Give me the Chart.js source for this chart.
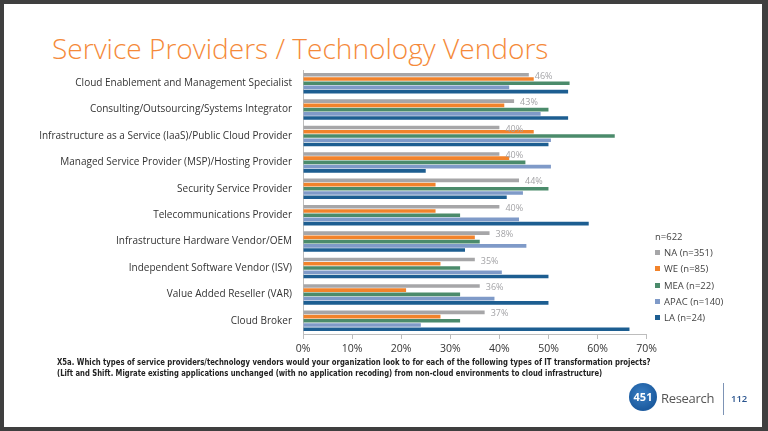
<!DOCTYPE html>
<html>
<head>
<meta charset="utf-8">
<script src="https://cdn.jsdelivr.net/npm/chart.js@4.4.1/dist/chart.umd.min.js"></script>
<style>
  html, body { margin: 0; padding: 0; }
  body { width: 768px; height: 431px; background: #3f3f3f; position: relative; overflow: hidden; font-family: "Open Sans", sans-serif; }
  #slide { position: absolute; left: 4px; top: 4px; width: 758px; height: 423px; background: #fff; }
  #title { position: absolute; left: 52px; top: 29px; color: #f58a3a; font-size: 29px; font-weight: 300; white-space: nowrap; }
  #wrap { position: absolute; left: 0; top: 60px; width: 661px; height: 300px; }
  #legend { position: absolute; left: 655px; top: 230px; font-size: 9.5px; color: #444; }
  #legend div { height: 16.2px; line-height: 14px; white-space: nowrap; }
  #legend span.sw { display: inline-block; width: 5px; height: 5px; margin-right: 4px; vertical-align: 1px; }
  .foot { position: absolute; left: 57px; font-family: "DejaVu Sans Condensed", sans-serif; font-weight: bold; font-size: 8px; color: #222; white-space: nowrap; transform-origin: 0 0; }
  #logo { position: absolute; left: 629px; top: 383px; width: 28px; height: 28px; border-radius: 50%; background: radial-gradient(circle at 45% 40%, #3a7fc4, #1b5a9e 70%, #5d8fc4 100%); color: #fff; font: bold 11px "Open Sans", sans-serif; text-align: center; line-height: 28px; }
  #research { position: absolute; left: 661px; top: 389px; font: 13px "Open Sans", sans-serif; color: #555; letter-spacing: -0.3px; }
  #vline { position: absolute; left: 723px; top: 383px; width: 1px; height: 32px; background: #7d93b5; }
  #page { position: absolute; left: 731px; top: 392px; font: 600 9.5px "Open Sans", sans-serif; color: #2a548e; }
</style>
</head>
<body>
<div id="slide"></div>
<div id="title">Service Providers / Technology Vendors</div>
<div id="wrap"><canvas id="chart"></canvas></div>
<div id="legend"></div>
<div class="foot" id="foot1" style="top:358px">X5a. Which types of service providers/technology vendors would your organization look to for each of the following types of IT transformation projects?</div>
<div class="foot" id="foot2" style="top:369px">(Lift and Shift. Migrate existing applications unchanged (with no application recoding) from non-cloud environments to cloud infrastructure)</div>
<div id="logo">451</div>
<div id="research">Research</div>
<div id="vline"></div>
<div id="page">112</div>
<script>
const categories = [
  'Cloud Enablement and Management Specialist',
  'Consulting/Outsourcing/Systems Integrator',
  'Infrastructure as a Service (IaaS)/Public Cloud Provider',
  'Managed Service Provider (MSP)/Hosting Provider',
  'Security Service Provider',
  'Telecommunications Provider',
  'Infrastructure Hardware Vendor/OEM',
  'Independent Software Vendor (ISV)',
  'Value Added Reseller (VAR)',
  'Cloud Broker'
];
const seriesNames = ['NA (n=351)', 'WE (n=85)', 'MEA (n=22)', 'APAC (n=140)', 'LA (n=24)'];
const seriesColors = ['#a6a6a8', '#f2832b', '#4b8b6b', '#7f9ac8', '#1d5e91'];
const naValues   = [46, 43, 40, 40, 44, 40, 38, 35, 36, 37];
const weValues   = [47, 41, 47, 42, 27, 27, 35, 28, 21, 28];
const meaValues  = [54.3, 50, 63.5, 45.3, 50, 32, 36, 32, 32, 32];
const apacValues = [42, 48.4, 50.5, 50.5, 44.8, 44, 45.5, 40.5, 39, 24];
const laValues   = [54, 54, 50, 25, 41.5, 58.2, 33, 50, 50, 66.5];
const xTicks = [0, 10, 20, 30, 40, 50, 60, 70];
const sampleNote = 'n=622';

const allValues = [naValues, weValues, meaValues, apacValues, laValues];

// legend
const legendEl = document.getElementById('legend');
legendEl.innerHTML = '<div>' + sampleNote + '</div>' + seriesNames.map(function (n, i) {
  return '<div><span class="sw" style="background:' + seriesColors[i] + '"></span>' + n + '</div>';
}).join('');

// footer text squeezed to width
[['foot1', 594], ['foot2', 545]].forEach(function (f) {
  const el = document.getElementById(f[0]);
  el.style.transform = 'scaleX(' + (f[1] / el.scrollWidth) + ')';
});
const titleEl = document.getElementById('title');
titleEl.style.fontSize = (29 * 497 / titleEl.scrollWidth) + 'px';

const naLabels = {
  id: 'naLabels',
  afterDatasetsDraw(chart) {
    const ctx = chart.ctx;
    const meta = chart.getDatasetMeta(0);
    ctx.save();
    ctx.font = '9px "Open Sans", sans-serif';
    ctx.fillStyle = '#a3a3a6';
    ctx.textBaseline = 'middle';
    meta.data.forEach(function (bar, i) {
      ctx.fillText(naValues[i] + '%', bar.x + 6, bar.y + 1.5);
    });
    ctx.restore();
  }
};

new Chart(document.getElementById('chart').getContext('2d'), {
  type: 'bar',
  data: {
    labels: categories,
    datasets: allValues.map(function (vals, i) {
      return {
        label: seriesNames[i],
        data: vals,
        backgroundColor: seriesColors[i],
        borderWidth: 0,
        barPercentage: 0.86,
        categoryPercentage: 0.8
      };
    })
  },
  options: {
    indexAxis: 'y',
    responsive: true,
    maintainAspectRatio: false,
    animation: false,
    layout: { padding: { top: 10, right: 4, bottom: 0, left: 0 } },
    scales: {
      x: {
        min: 0, max: 70,
        afterBuildTicks(scale) { scale.ticks = xTicks.map(function (v) { return { value: v }; }); },
        afterFit(scale) { scale.height = 26; },
        ticks: {
          callback: function (v) { return v + '%'; },
          font: { family: '"Open Sans", sans-serif', size: 10.5 },
          color: '#333',
          padding: 4,
          maxRotation: 0
        },
        grid: { drawOnChartArea: false, tickLength: 5, color: '#bdbdbd' },
        border: { display: true, color: '#bdbdbd' }
      },
      y: {
        afterFit(scale) { scale.width = 303; },
        ticks: {
          font: { family: '"Open Sans", sans-serif', size: 10 },
          color: '#333',
          padding: 3
        },
        grid: { display: false },
        border: { display: true, color: '#bdbdbd' }
      }
    },
    plugins: {
      legend: { display: false },
      tooltip: { enabled: false }
    }
  },
  plugins: [naLabels]
});
</script>
</body>
</html>
